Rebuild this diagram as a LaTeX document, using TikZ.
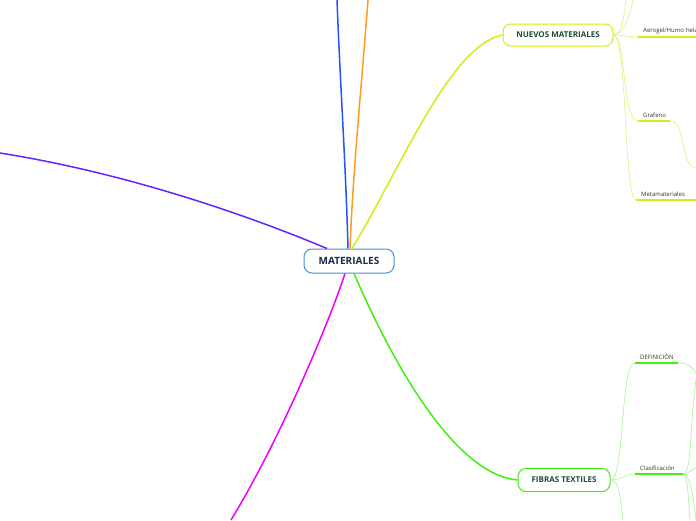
\documentclass[tikz,border=0pt]{standalone}
\usepackage{fontspec}
\setmainfont{Open Sans}
\usetikzlibrary{positioning}
\definecolor{matblue}{HTML}{4A90D6}
\definecolor{mattext}{HTML}{1B2B4B}
\definecolor{toptext}{HTML}{1C4A3A}
\definecolor{subtext}{HTML}{333333}
\definecolor{brblue}{HTML}{2352FF}
\definecolor{brorange}{HTML}{FF9A22}
\definecolor{brlime}{HTML}{CCF014}
\definecolor{brpurple}{HTML}{6622FF}
\definecolor{brmagenta}{HTML}{EE00FF}
\definecolor{brgreen}{HTML}{44EE11}
\definecolor{ltlime}{HTML}{DDF27A}
\definecolor{ltgreen}{HTML}{A2F592}

\begin{document}
\begin{tikzpicture}[x=1pt,y=-1pt,
    topic/.style={draw,rounded corners=8pt,fill=white,line width=1pt,
      inner sep=0pt,font=\bfseries},
    branch/.style={line width=1.5pt},
    twig/.style={line width=0.6pt},
    sub/.style={anchor=south west,inner xsep=5pt,inner ysep=3pt,
      font=\fontsize{6}{7}\selectfont,text=subtext,align=left}]
 \useasboundingbox (0,0) rectangle (696,520);
 % central and main topics
 \node[topic,draw=matblue,text=mattext,minimum width=90pt,minimum height=24pt,
   font=\bfseries\fontsize{10}{12}\selectfont] (MAT) at (349,261) {MATERIALES};
 \node[topic,draw=brlime,text=toptext,minimum width=110pt,minimum height=22pt,
   font=\bfseries\fontsize{8}{9}\selectfont] (NM) at (558,35) {NUEVOS MATERIALES};
 \node[topic,draw=brgreen,text=toptext,minimum width=92pt,minimum height=23pt,
   font=\bfseries\fontsize{8}{9}\selectfont] (FT) at (564,480) {FIBRAS TEXTILES};
 % free ends of the cut-off branches
 \coordinate (bl) at (337,0);
 \coordinate (or) at (368,0);
 \coordinate (pu) at (0,153);
 \coordinate (mg) at (231,520);
 % subtopics
 \node[sub,text width=70pt] (AH) at (638,37) {Aerogel/Humo helado};
 \node[sub,text width=22pt] (GR) at (638,121) {Grafeno};
 \node[sub,text width=50pt] (MM) at (636,200) {Metamateriales};
 \node[sub,text width=33pt] (DEF) at (635,363) {DEFINICIÓN};
 \node[sub,text width=38pt] (CLA) at (635,474) {Clasificación};
 % main branches
 \draw[branch,brblue] ([xshift=-1pt]MAT.north) .. controls (346,170) and (340,80) .. (bl);
 \draw[branch,brorange] ([xshift=1pt]MAT.north) .. controls (353,170) and (362,80) .. (or);
 \draw[branch,brlime] ([xshift=3pt]MAT.north) .. controls (400,170) and (450,45) .. (NM.west);
 \draw[branch,brpurple] ([xshift=-22pt]MAT.north) .. controls (240,212) and (120,172) .. (pu);
 \draw[branch,brmagenta] ([xshift=-4pt]MAT.south) .. controls (330,320) and (280,440) .. (mg);
 \draw[branch,brgreen] ([xshift=5pt]MAT.south) .. controls (400,380) and (460,475) .. (FT.west);
 % nuevos materiales
 \draw[twig,ltlime] (NM.east) .. controls (622,35) and (624,15) .. (626,0);
 \draw[twig,ltlime] (NM.east) .. controls (624,35) and (630,15) .. (633,0);
 \draw[twig,ltlime] (NM.east) .. controls (625,35) and (628,37) .. (AH.south west);
 \draw[twig,ltlime] (NM.east) .. controls (626,35) and (622,121) .. (GR.south west);
 \draw[twig,ltlime] (NM.east) .. controls (627,35) and (624,200) .. (MM.south west);
 \draw[twig,ltlime] (GR.south east) .. controls (686,121) and (680,167) .. (696,168);
 \foreach \n in {AH,GR,MM}
   \draw[brlime,line width=1.2pt] (\n.south west) -- (\n.south east);
 % fibras textiles
 \draw[twig,ltgreen] (FT.east) .. controls (625,480) and (620,363) .. (DEF.south west);
 \draw[twig,ltgreen] (FT.east) .. controls (622,480) and (625,474) .. (CLA.south west);
 \draw[twig,ltgreen] (FT.east) .. controls (620,480) and (620,500) .. (623,520);
 \draw[twig,ltgreen] (DEF.south east) .. controls (690,363) and (692,368) .. (696,373);
 \draw[twig,ltgreen] (CLA.south east) .. controls (692,474) and (690,420) .. (696,380);
 \draw[twig,ltgreen] (CLA.south east) .. controls (690,474) and (692,468) .. (696,468);
 \draw[twig,ltgreen] (CLA.south east) .. controls (688,474) and (688,500) .. (690,520);
 \draw[twig,ltgreen] (CLA.south east) .. controls (690,474) and (694,500) .. (696,520);
 \foreach \n in {DEF,CLA}
   \draw[brgreen,line width=1.2pt] (\n.south west) -- (\n.south east);
\end{tikzpicture}
\end{document}
